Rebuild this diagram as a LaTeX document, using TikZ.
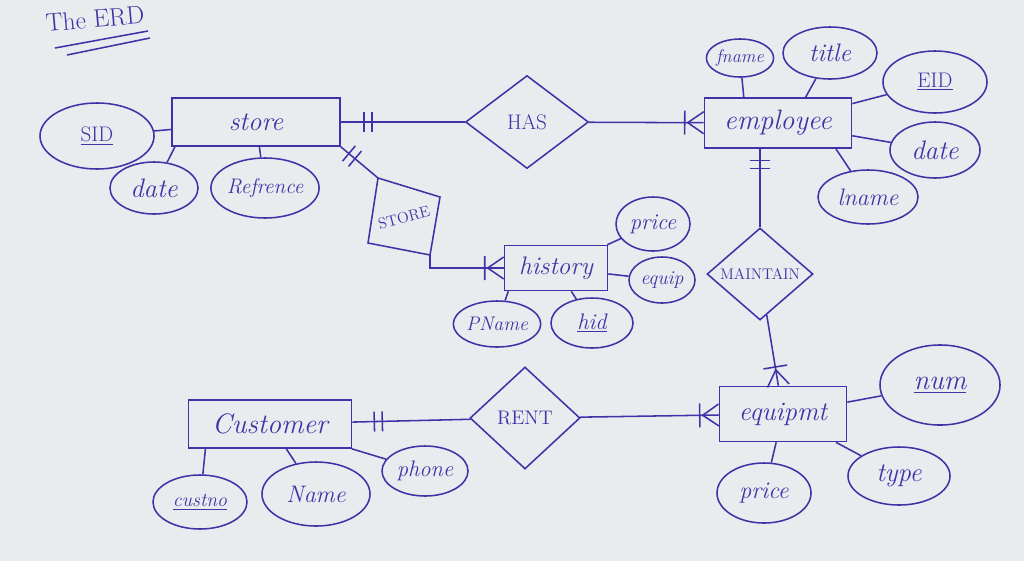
\documentclass[tikz,border=0pt]{standalone}
\usepackage{fontspec}
\usetikzlibrary{positioning,shapes.geometric}
\definecolor{tinta}{RGB}{62,52,168}
\definecolor{papel}{RGB}{234,235,238}
\newcommand{\letra}[1]{\fontsize{#1}{#1}\selectfont}
\tikzset{
  entidad/.style={draw, rectangle, inner sep=1pt, font=\letra{19}\itshape},
  atributo/.style={draw, ellipse, inner sep=0pt, font=\letra{16}\itshape},
  rombo/.style={draw, diamond, inner sep=0pt, font=\letra{14}},
  medidas/.style 2 args={minimum width=#1*0.025cm, minimum height=#2*0.025cm},
  radios/.style 2 args={minimum width=#1*0.05cm, minimum height=#2*0.05cm},
  uno/.pic={\draw (-4,-10) -- (-4,10) (4,-10) -- (4,10);},
  muchos/.pic={\draw (-19,-12) -- (-19,12) (0,-11) -- (-16,0) -- (0,11);},
}

\begin{document}
\begin{tikzpicture}[x=0.025cm, y=-0.025cm, line width=1.1pt, color=tinta, allow upside down]
\useasboundingbox (0,0) rectangle (1024,561);
\fill[papel] (0,0) rectangle (1024,561);

% titulo
\node[font=\letra{18}, rotate=5] (erd) at (95,19) {The ERD};
\draw (55,48) -- (148,31);
\draw (67,55) -- (150,38);

% store
\node[entidad, medidas={168}{48}] (store) at (256,122) {store};
\node[atributo, radios={57}{33}, font=\letra{15}] (sid) at (97,136) {\underline{SID}};
\node[atributo, radios={44}{26}, font=\letra{19}\itshape] (sdate) at (154,188) {date};
\node[atributo, radios={52}{30}, font=\letra{15}\itshape] (sref) at (265,188) {Refrence};
\draw (store) -- (sid);
\draw (store.197) -- (sdate);
\draw (store) -- (sref);

% employee
\node[entidad, medidas={147}{50}, font=\letra{20}\itshape] (emp) at (778,123) {employee};
\node[atributo, radios={32}{19}, font=\letra{13}\itshape] (fname) at (740,58) {fname};
\node[atributo, radios={47}{26}, font=\letra{18}\itshape] (title) at (830,53) {title};
\node[atributo, radios={52}{31}, font=\letra{15}] (eid) at (935,82) {\underline{EID}};
\node[atributo, radios={45}{28}, font=\letra{19}\itshape] (edate) at (935,150) {date};
\node[atributo, radios={50}{27}, font=\letra{17}\itshape] (lname) at (868,197) {lname};
\draw (emp.143) -- (fname);
\draw (emp.43) -- (title);
\draw (emp) -- (eid);
\draw (emp) -- (edate);
\draw (emp.-24) -- (lname);

% HAS
\node[rombo, medidas={123}{93}, font=\letra{15}] (has) at (527,122) {HAS};
\draw (store) -- pic[pos=0.22, sloped]{uno} (has);
\draw (has) -- pic[pos=1, sloped]{muchos} (emp);

% MAINTAIN
\node[rombo, medidas={106}{92}, font=\letra{11}] (maint) at (760,274) {MAINTAIN};
\draw (emp.south -| maint.north) -- pic[pos=0.2, sloped]{uno} (maint.north);

% equipmt
\node[entidad, medidas={127}{55}] (equip) at (783,414) {equipmt};
\node[atributo, radios={60}{40}, font=\letra{20}\itshape] (num) at (940,385) {\underline{num}};
\node[atributo, radios={51}{29}, font=\letra{19}\itshape] (etype) at (899,476) {type};
\node[atributo, radios={47}{30}, font=\letra{17}\itshape] (eprice) at (764,493) {price};
\draw (maint) -- pic[pos=1, sloped]{muchos} (equip);
\draw (equip) -- (num);
\draw (equip) -- (etype);
\draw (equip) -- (eprice);

% Customer
\node[entidad, medidas={163}{48}, font=\letra{20}\itshape] (cust) at (270,424) {Customer};
\node[atributo, radios={47}{27}, font=\letra{14}\itshape] (custno) at (200,502) {\underline{custno}};
\node[atributo, radios={54}{32}, font=\letra{17}\itshape] (cname) at (316,494) {Name};
\node[atributo, radios={43}{25}] (phone) at (425,471) {phone};
\draw (cust.201) -- (custno);
\draw (cust) -- (cname);
\draw (cust) -- (phone);

% RENT
\node[rombo, medidas={110}{102}] (rent) at (525,418) {RENT};
\draw (cust) -- pic[pos=0.22, sloped]{uno} (rent);
\draw (rent) -- pic[pos=1, sloped]{muchos} (equip);

% STORE y history
\coordinate (st-nw) at (378,178);
\coordinate (st-ne) at (440,197);
\coordinate (st-se) at (430,255);
\coordinate (st-sw) at (368,243);
\draw (st-nw) -- (st-ne) -- (st-se) -- (st-sw) -- cycle;
\node[rotate=15, font=\letra{11}] (storerel) at (404,218) {STORE};
\node[entidad, medidas={103}{45}, font=\letra{18}\itshape] (hist) at (556,268) {history};
\node[atributo, radios={37}{27}] (hprice) at (653,224) {price};
\node[atributo, radios={33}{23}, font=\letra{14}\itshape] (hequip) at (662,280) {equip};
\node[atributo, radios={41}{23}, font=\letra{14}\itshape] (pname) at (497,324) {PName};
\node[atributo, radios={41}{25}] (hid) at (592,323) {\underline{hid}};
\draw (store.south east) -- pic[pos=0.3, sloped]{uno} (st-nw);
\draw (st-se) |- pic[pos=1, sloped]{muchos} (hist.west);
\draw (hist) -- (hprice);
\draw (hist) -- (hequip);
\draw (hist.206) -- (pname);
\draw (hist) -- (hid);
\end{tikzpicture}
\end{document}
